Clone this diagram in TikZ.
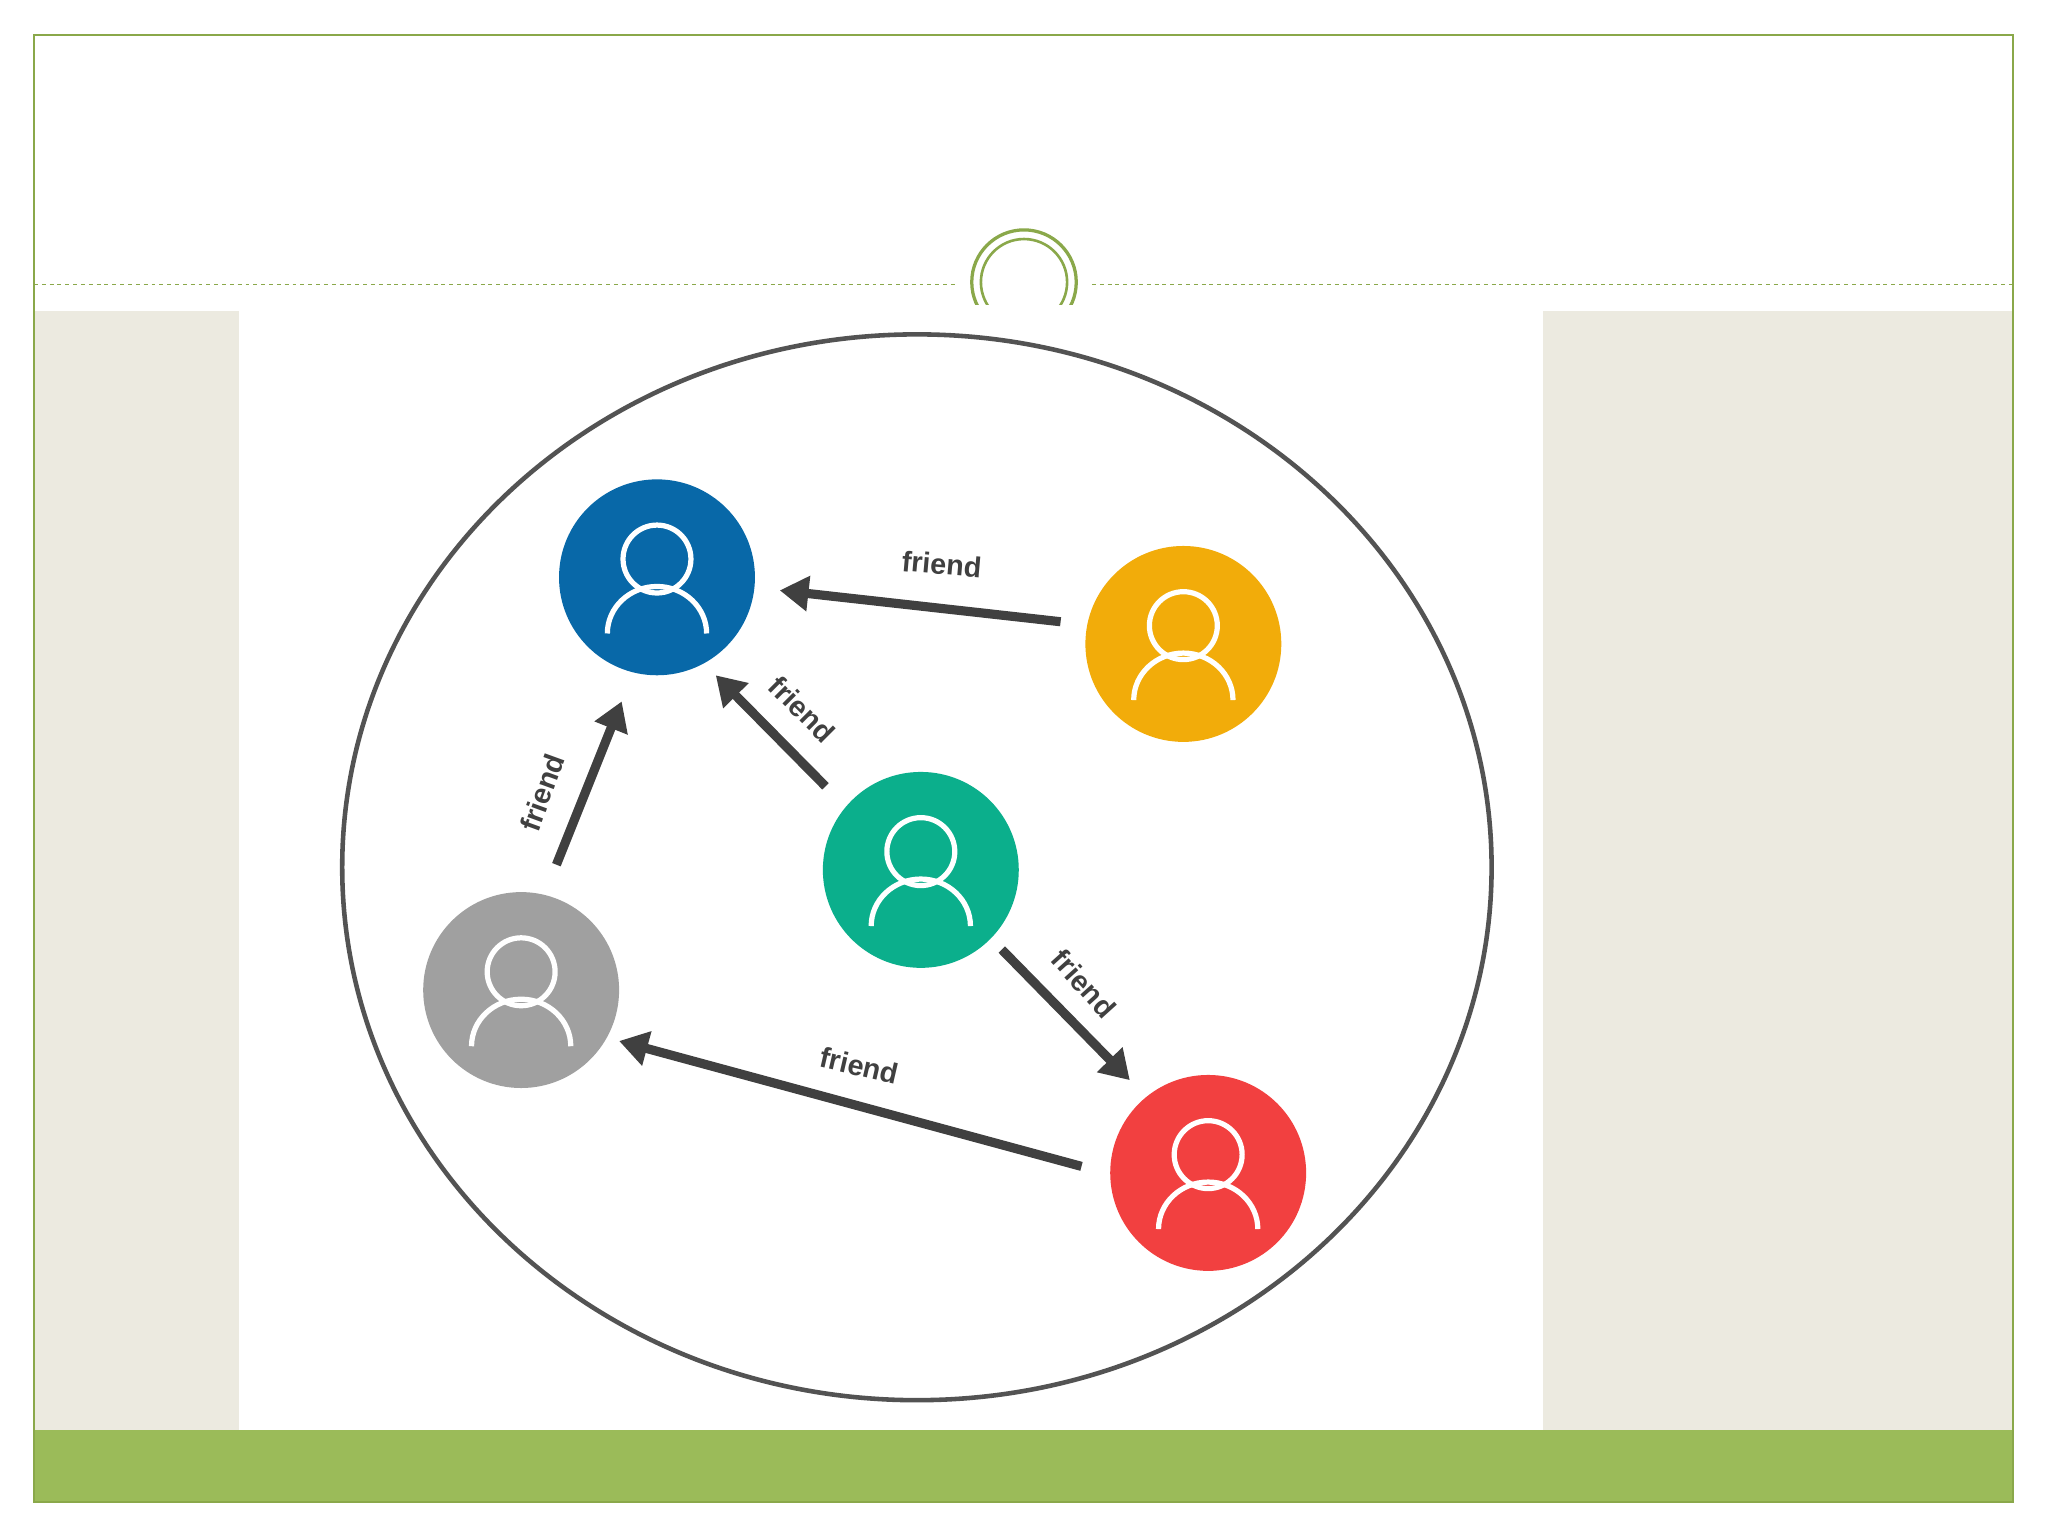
\documentclass[tikz,border=0pt]{standalone}
\usepackage{fontspec}
\setmainfont{Liberation Sans}
\usetikzlibrary{arrows.meta}
\definecolor{olive}{HTML}{8AA84A}
\definecolor{barg}{HTML}{9BBB59}
\definecolor{beige}{HTML}{ECEAE0}
\definecolor{arr}{HTML}{404040}
\tikzset{
 person/.style={circle,minimum size=150pt,inner sep=0pt},
 rel/.style={line width=7pt,draw=arr,-{Triangle[length=22pt,width=26pt]}},
 lab/.style={font=\fontsize{22}{26}\selectfont\bfseries,text=arr}
}
\newcommand{\usericon}[1]{%
 \draw[white,line width=4pt] ($(#1)+(0,-14)$) circle (26);
 \draw[white,line width=4pt] ($(#1)+(-38,43)$) arc[start angle=180,end angle=0,x radius=38,y radius=-36];
}
\usetikzlibrary{calc}
\begin{document}
\begin{tikzpicture}[x=1pt,y=-1pt]
\useasboundingbox (0,0) rectangle (1568,1176);
\fill[white] (0,0) rectangle (1568,1176);
\fill[beige] (26,238) rectangle (1541,1095);
\fill[white] (183,238) rectangle (1181,1095);
\fill[barg] (26,1095) rectangle (1541,1150);
\draw[olive,line width=1.2pt] (26,27) rectangle (1541,1150);
\draw[olive,dashed,line width=1pt] (26,218) -- (733,218) (836,218) -- (1541,218);
\begin{scope}
\clip (700,150) rectangle (870,233);
\draw[olive,line width=2.5pt] (784,216) circle (40);
\draw[olive,line width=2pt] (784,216) circle (33);
\end{scope}
\draw[arr!90,line width=3.5pt] (702,664) ellipse[x radius=440,y radius=408];
\node[person,fill={rgb,255:red,8;green,104;blue,168}] (blue) at (503,442) {};
\node[person,fill={rgb,255:red,242;green,172;blue,10}] (yellow) at (906,493) {};
\node[person,fill={rgb,255:red,11;green,175;blue,140}] (teal) at (705,666) {};
\node[person,fill={rgb,255:red,160;green,160;blue,160}] (grey) at (399,758) {};
\node[person,fill={rgb,255:red,242;green,64;blue,64}] (red) at (925,898) {};
\foreach \n in {blue,yellow,teal,grey,red}{\usericon{\n}}
\coordinate (y1) at (812,476); \coordinate (b1) at (597,452);
\coordinate (t1) at (632,602); \coordinate (b2) at (548,517);
\coordinate (g1) at (426,662); \coordinate (b3) at (476,537);
\coordinate (t2) at (767,727); \coordinate (r1) at (865,827);
\coordinate (r2) at (828,893); \coordinate (g2) at (474,797);
\draw[rel] (y1) -- (b1);
\draw[rel] (t1) -- (b2);
\draw[rel] (g1) -- (b3);
\draw[rel] (t2) -- (r1);
\draw[rel] (r2) -- (g2);
\node[lab,rotate=-5] (l1) at (721,432) {friend};
\node[lab,rotate=-45] (l2) at (614,543) {friend};
\node[lab,rotate=70] (l3) at (415,607) {friend};
\node[lab,rotate=-48] (l4) at (830,753) {friend};
\node[lab,rotate=-13] (l5) at (658,816) {friend};
\end{tikzpicture}
\end{document}
